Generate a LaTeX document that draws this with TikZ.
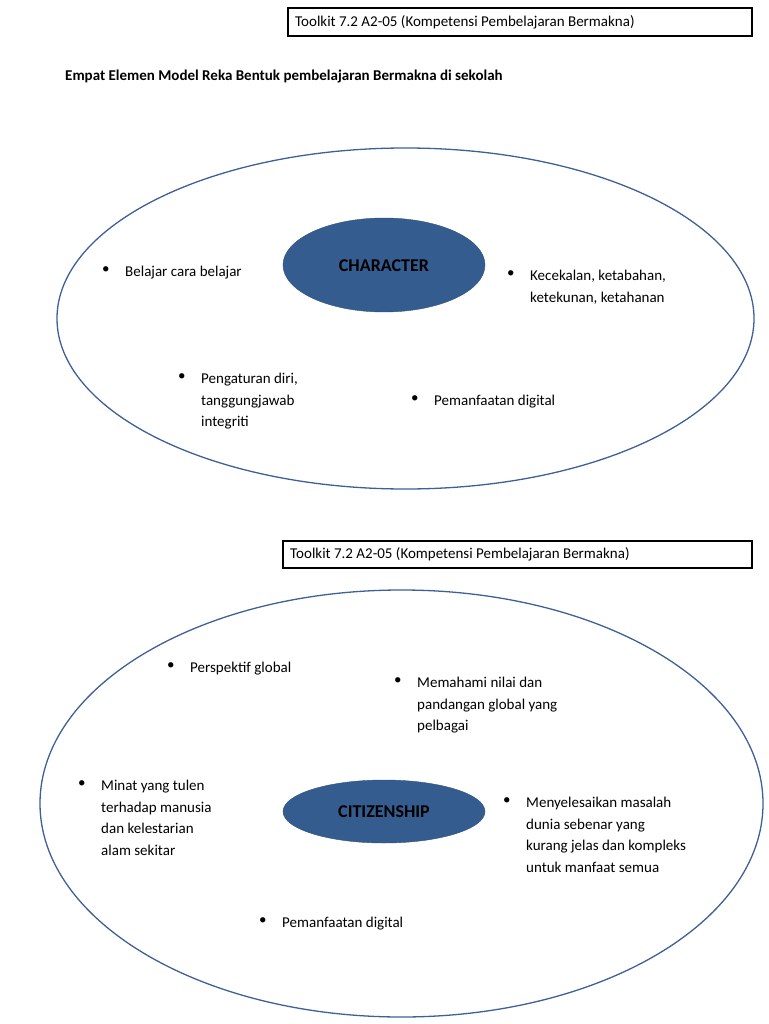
\documentclass[tikz,border=0pt]{standalone}
\usepackage{fontspec}
\setmainfont{Carlito}
\begin{document}
\begin{tikzpicture}[x=1pt,y=-1pt,
  txt/.style={anchor=north west,inner sep=0pt,align=left,font=\fontsize{15}{21.5}\selectfont},
  bul/.style={anchor=north west,inner sep=0pt,font=\fontsize{15}{21.5}\selectfont},
  hdr/.style={draw,line width=1.3pt,anchor=north west,inner sep=0pt,font=\fontsize{15}{18}\selectfont},
  outer/.style={draw={rgb,255:red,62;green,96;blue,150},line width=1.3pt},
  core/.style={fill={rgb,255:red,52;green,92;blue,142},draw={rgb,255:red,45;green,80;blue,125}}]
\useasboundingbox (0,0) rectangle (768,1024);
% top
\draw[line width=1.3pt] (288,8) rectangle (752,36);
\node[txt,anchor=west] (h1) at (295,22) {Toolkit 7.2 A2-05 (Kompetensi Pembelajaran Bermakna)};
\node[txt,anchor=west,font=\bfseries\fontsize{15}{18}\selectfont] (title) at (65,77) {Empat Elemen Model Reka Bentuk pembelajaran Bermakna di sekolah};
\draw[outer] (405.5,318.5) ellipse [x radius=348.5,y radius=170.5];
\draw[core] (384,265) ellipse [x radius=101,y radius=47];
\node[font=\bfseries\fontsize{18}{20}\selectfont] (ch) at (384,266) {CHARACTER};
\node[bul] (b1) at (102,266) {•};
\node[txt] (t1) at (125,266) {Belajar cara belajar};
\node[bul] (b2) at (507,270) {•};
\node[txt] (t2) at (530,270) {Kecekalan, ketabahan,\\ketekunan, ketahanan};
\node[bul] (b3) at (178,373) {•};
\node[txt] (t3) at (201,373) {Pengaturan diri,\\tanggungjawab\\integriti};
\node[bul] (b4) at (411,395) {•};
\node[txt] (t4) at (434,395) {Pemanfaatan digital};
% bottom
\draw[line width=1.3pt] (283,541) rectangle (752,568);
\node[txt,anchor=west] (h2) at (290,554) {Toolkit 7.2 A2-05 (Kompetensi Pembelajaran Bermakna)};
\draw[outer] (401.5,803.5) ellipse [x radius=361.5,y radius=213.5];
\draw[core] (384,811.5) ellipse [x radius=101,y radius=31.5];
\node[font=\bfseries\fontsize{18}{20}\selectfont] (ci) at (384,812) {CITIZENSHIP};
\node[bul] (c1) at (167,662) {•};
\node[txt] (u1) at (190,662) {Perspektif global};
\node[bul] (c2) at (394,677) {•};
\node[txt] (u2) at (417,677) {Memahami nilai dan\\pandangan global yang\\pelbagai};
\node[bul] (c3) at (78,780) {•};
\node[txt] (u3) at (101,780) {Minat yang tulen\\terhadap manusia\\dan kelestarian\\alam sekitar};
\node[bul] (c4) at (503,797) {•};
\node[txt] (u4) at (526,797) {Menyelesaikan masalah\\dunia sebenar yang\\kurang jelas dan kompleks\\untuk manfaat semua};
\node[bul] (c5) at (259,917) {•};
\node[txt] (u5) at (282,917) {Pemanfaatan digital};
\end{tikzpicture}
\end{document}
